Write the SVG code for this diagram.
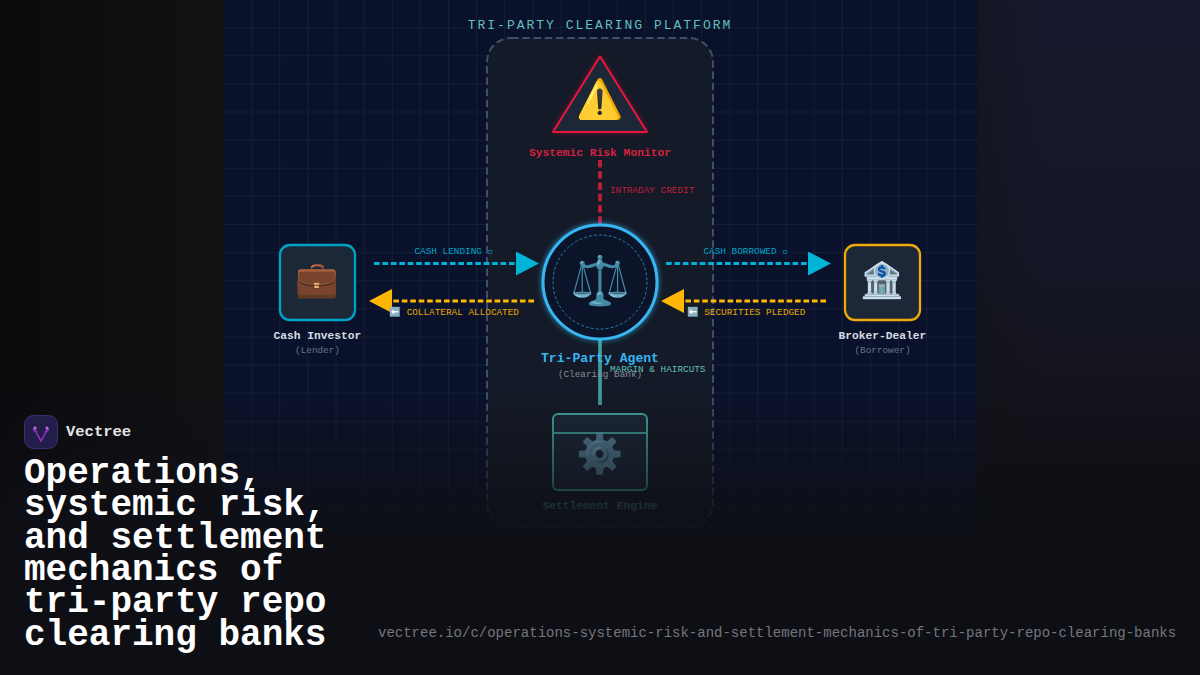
<svg xmlns="http://www.w3.org/2000/svg" width="1200" height="675" viewBox="0 0 1200 675">
<defs>
<pattern id="grid" width="28.125" height="28.125" patternUnits="userSpaceOnUse" x="224" y="0"><path d="M28.125 0V28.125H0" fill="none" stroke="#1c2a42" stroke-width="1"/></pattern>
<linearGradient id="fade" x1="0" y1="0" x2="0" y2="1"><stop offset="0" stop-color="#0e0f15" stop-opacity="0"/><stop offset=".58" stop-color="#0e0f15" stop-opacity="0"/><stop offset=".79" stop-color="#0e0f15" stop-opacity=".96"/><stop offset=".82" stop-color="#0e0f15"/><stop offset="1" stop-color="#0e0f15"/></linearGradient>
<linearGradient id="right" x1="0" y1="0" x2="0" y2="1"><stop offset="0" stop-color="#171a2e"/><stop offset=".45" stop-color="#151728"/><stop offset=".75" stop-color="#13131b"/><stop offset="1" stop-color="#0e0f15"/></linearGradient>
<linearGradient id="rightside" x1="0" y1="0" x2="1" y2="0"><stop offset="0" stop-color="#111116" stop-opacity=".45"/><stop offset=".3" stop-color="#111116" stop-opacity="0"/></linearGradient>
<linearGradient id="left" x1="0" y1="0" x2="1" y2="0"><stop offset="0" stop-color="#0b0b0e"/><stop offset="1" stop-color="#121215"/></linearGradient>
<filter id="glow" x="-30%" y="-30%" width="160%" height="160%"><feGaussianBlur stdDeviation="3"/></filter>
<filter id="tint" x="-5%" y="-5%" width="110%" height="110%"><feColorMatrix type="matrix" values="0.95 0 0 0 0  0 1.25 0 0 0  0 0 1.35 0 0  0 0 0 1 0"/></filter>
<marker id="ac" markerUnits="userSpaceOnUse" markerWidth="24" markerHeight="24" refX="0" refY="12" orient="auto"><path d="M0 0L23 12L0 24Z" fill="#00b4d8"/></marker>
<marker id="ag" markerUnits="userSpaceOnUse" markerWidth="24" markerHeight="24" refX="0" refY="12" orient="auto"><path d="M0 0L23 12L0 24Z" fill="#ffb703"/></marker>
</defs>
<style>
text{font-family:"Liberation Mono","DejaVu Sans Mono",monospace}
.e{font-family:"Noto Color Emoji","Liberation Mono",sans-serif;text-anchor:middle}
.m{text-anchor:middle}
.nm{font-size:11.25px;font-weight:700;fill:#d8dce2;text-anchor:middle}
.sub{font-size:9.375px;fill:#6b7583;text-anchor:middle}
.lb{font-size:9.375px}
.sq{font-family:"DejaVu Sans Mono",monospace}
.box{fill:#1c2838;stroke-width:2.3}
.cy{stroke:#00b4d8;stroke-width:2.8;stroke-dasharray:5.625 2.8125;fill:none}
.go{stroke:#ffb703;stroke-width:2.8;stroke-dasharray:5.625 2.8125;fill:none}
</style>
<rect width="1200" height="675" fill="#0e0f15"/>
<rect width="224" height="540" fill="url(#left)"/>
<rect x="224" y="0" width="753" height="540" fill="#0a122b"/>
<rect x="224" y="0" width="753" height="540" fill="url(#grid)"/>
<rect x="977" y="0" width="223" height="540" fill="url(#right)"/>
<rect x="977" y="0" width="223" height="540" fill="url(#rightside)"/>
<rect x="487" y="38" width="226" height="489" rx="24" fill="#141a27" stroke="#3a506b" stroke-width="2" stroke-dasharray="7.5 3.75"/>
<text class="m" x="600" y="28.500" font-size="13" letter-spacing="2" fill="#62bfbb">TRI-PARTY CLEARING PLATFORM</text>
<g id="connectors">
<path d="M600 160V224" stroke="#bf1f3b" stroke-width="3.750" stroke-dasharray="7.500 3.750" fill="none"/>
<path d="M600 340V405" stroke="#3f9c98" stroke-width="3.750" fill="none"/>
<path class="cy" d="M374 263.500H516" marker-end="url(#ac)"/>
<path class="go" d="M534 301H392" marker-end="url(#ag)"/>
<path class="cy" d="M666 263.500H808" marker-end="url(#ac)"/>
<path class="go" d="M826 301H684" marker-end="url(#ag)"/>
<text class="lb" x="414.500" y="254" fill="#00a4c6">CASH LENDING <tspan class="sq">▫</tspan></text>
<text class="lb m" x="454" y="315" fill="#e8a806">⬅️ COLLATERAL ALLOCATED</text>
<text class="lb" x="703.500" y="254" fill="#00a4c6">CASH BORROWED <tspan class="sq">▫</tspan></text>
<text class="lb m" x="746" y="315" fill="#e8a806">⬅️ SECURITIES PLEDGED</text>
<text class="lb" x="610" y="193" fill="#bf1f3b">INTRADAY CREDIT</text>
<text class="lb" x="610" y="372" fill="#62bfbb">MARGIN &amp; HAIRCUTS</text>
</g>
<g id="risk">
<path d="M600 56.500L647 132H553Z" fill="#e6173d" filter="url(#glow)" opacity=".55"/>
<path d="M600 56.500L647 132H553Z" fill="#1c2838" stroke="#e6173d" stroke-width="2" stroke-linejoin="round"/>
<text class="e" x="600" y="112" font-size="38">⚠️</text>
<text class="m" x="600" y="156" font-size="11.250" font-weight="700" fill="#d8213f">Systemic Risk Monitor</text>
</g>
<g id="investor">
<rect class="box" x="280" y="245" width="75" height="75" rx="10" stroke="#00a4c6"/>
<text class="e" x="317" y="291" font-size="35">💼</text>
<text class="nm" x="317.500" y="339">Cash Investor</text>
<text class="sub" x="317.500" y="353">(Lender)</text>
</g>
<g id="dealer">
<rect class="box" x="845" y="245" width="75" height="75" rx="10" stroke="#f0a90a"/>
<text class="e" x="882.500" y="292" font-size="35">🏦</text>
<text class="nm" x="882.500" y="339">Broker-Dealer</text>
<text class="sub" x="882.500" y="353">(Borrower)</text>
</g>
<g id="agent">
<circle cx="600" cy="282" r="58" fill="#38b6f2" filter="url(#glow)" opacity=".85"/>
<circle cx="600" cy="282" r="57" fill="#0c1429" stroke="#38b6f2" stroke-width="3"/>
<circle cx="600" cy="282" r="47" fill="none" stroke="#2a7fb0" stroke-width="1" stroke-dasharray="3 2"/>
<text class="e" x="600" y="296.500" font-size="48" opacity=".9" filter="url(#tint)">⚖️</text>
<text class="m" x="600" y="362" font-size="13.125" font-weight="700" fill="#38b6f2">Tri-Party Agent</text>
<text class="m" x="600" y="377" font-size="9.375" fill="#858d97">(Clearing Bank)</text>
</g>
<g id="engine">
<rect x="553" y="414" width="94" height="76" rx="5" fill="#1c2838" stroke="#45a5a1" stroke-width="2"/>
<path d="M553 433H647" stroke="#3f9c98" stroke-width="2"/>
<text class="e" x="600" y="467" font-size="38" opacity=".6" filter="url(#tint)">⚙️</text>
<text class="m" x="600" y="509" font-size="11.250" font-weight="700" fill="#3f9c98">Settlement Engine</text>
</g>
<rect x="0" y="0" width="1200" height="675" fill="url(#fade)"/>
<g id="brand">
<rect x="24.500" y="415.500" width="33" height="33" rx="9" fill="#221e4a" stroke="#3b2f77"/>
<path d="M35 430L41 441L47 430M33 429.500L37 432M49 429.500L45 432" fill="none" stroke="#a32ec9" stroke-width="1.500"/>
<circle cx="35" cy="428" r="1.600" fill="#c070e0"/><circle cx="47" cy="428" r="1.600" fill="#c070e0"/>
<text x="66" y="435.500" font-size="15.500" font-weight="700" fill="#e4e4e7">Vectree</text>
<g font-size="36" font-weight="700" fill="#fff">
<text x="24" y="482.700">Operations,</text>
<text x="24" y="515.100">systemic risk,</text>
<text x="24" y="547.500">and settlement</text>
<text x="24" y="579.900">mechanics of</text>
<text x="24" y="612.300">tri-party repo</text>
<text x="24" y="644.700">clearing banks</text>
</g>
<text x="378" y="637" font-size="14" fill="#75767c">vectree.io/c/operations-systemic-risk-and-settlement-mechanics-of-tri-party-repo-clearing-banks</text>
</g>
</svg>
